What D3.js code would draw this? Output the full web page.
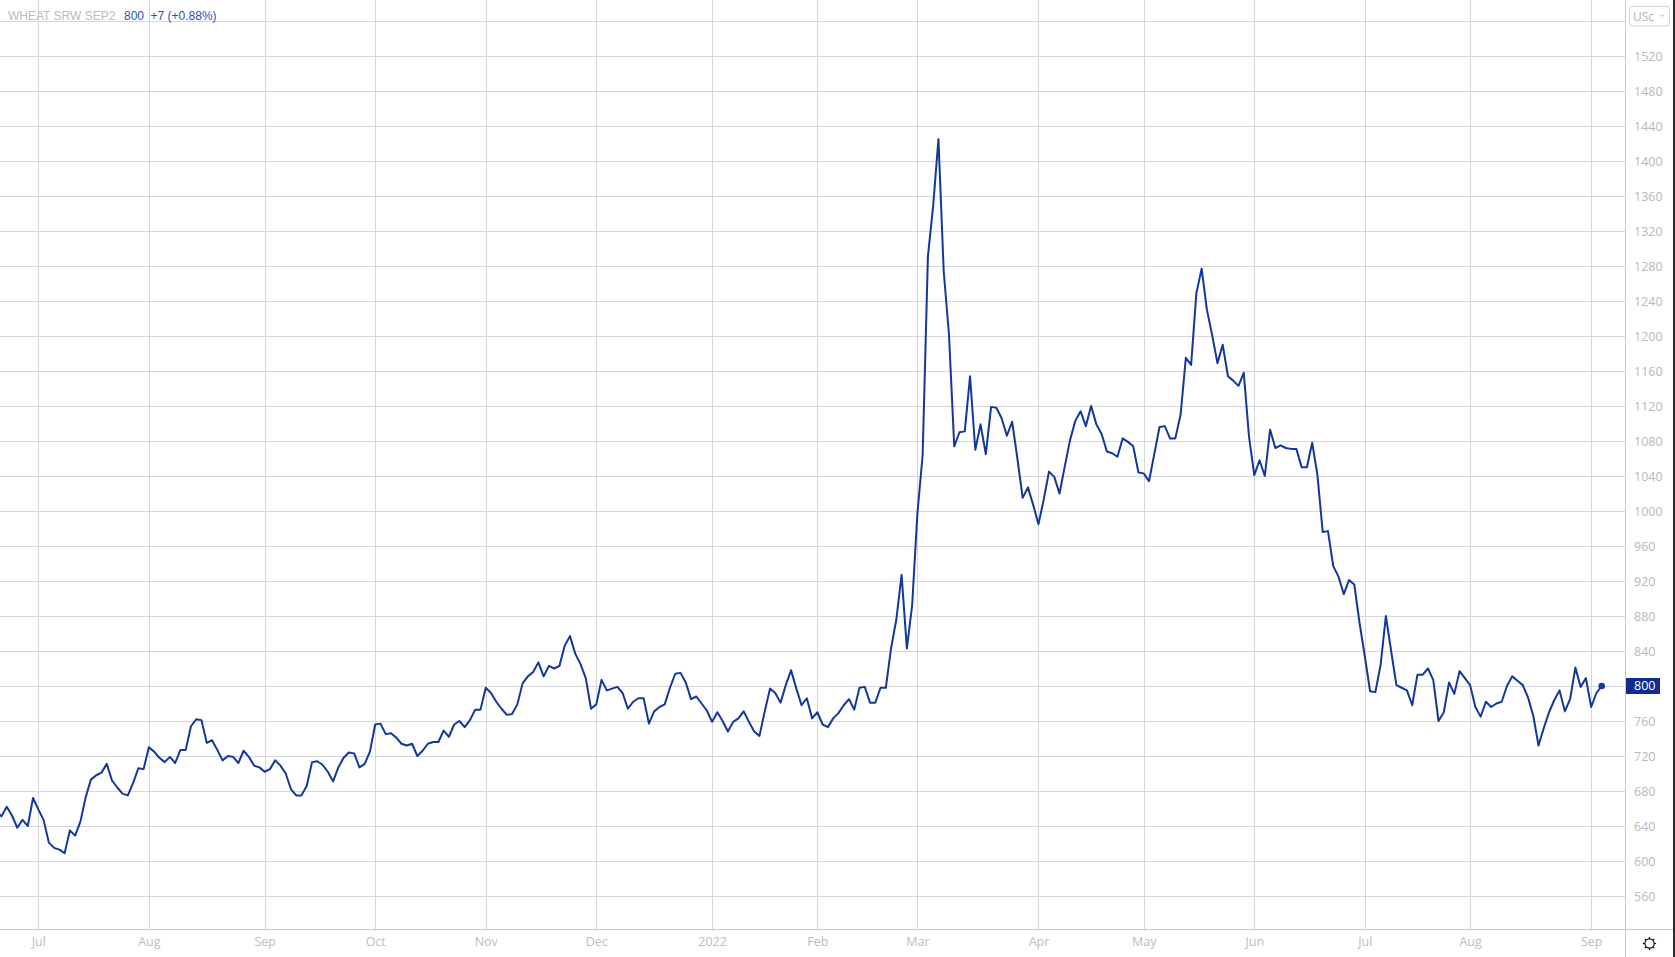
<!DOCTYPE html>
<html><head><meta charset="utf-8">
<script src="https://cdn.jsdelivr.net/npm/d3@7"></script>
<style>
html,body{margin:0;padding:0;background:#fff;overflow:hidden}
svg{display:block}
</style></head><body>
<svg id="chart" width="1675" height="957"></svg>
<script>
// ---- data ----
const titleText = "WHEAT SRW SEP2";
const lastPriceText = "800";
const changeText = "+7 (+0.88%)";
const currencyText = "USc";
const monthLabels = ["Jul","Aug","Sep","Oct","Nov","Dec","2022","Feb","Mar","Apr","May","Jun","Jul","Aug","Sep"];
// trading-day index (into closes) of each month's first session
const monthStartIndex = [8,29,51,72,93,114,136,156,175,198,218,239,260,280,303];
const priceTicks = [560,600,640,680,720,760,800,840,880,920,960,1000,1040,1080,1120,1160,1200,1240,1280,1320,1360,1400,1440,1480,1520,1560];
const priceLabels = [560,600,640,680,720,760,800,840,880,920,960,1000,1040,1080,1120,1160,1200,1240,1280,1320,1360,1400,1440,1480,1520];
// daily closes, 21 Jun 2021 .. 6 Sep 2022
const closes = [
 657,651,662,652,638,647,640,672,
 659,647,621,615,613,609,635,629,645,673,
 693,698,701,711,692,684,677,675,689,706,
 705,730,725,718,713,719,712,727,727,754,
 762,761,735,738,727,715,720,719,712,726,
 719,709,707,702,705,715,709,700,682,675,
 675,686,713,714,710,702,691,707,718,724,
 723,707,711,725,756,757,745,746,741,734,
 732,734,720,726,734,736,736,749,742,756,
 760,753,761,773,773,798,792,782,774,767,
 768,779,803,811,816,827,811,823,820,823,
 846,857,837,825,809,774,779,807,795,797,
 799,792,774,782,786,786,757,771,776,779,
 798,814,815,804,785,788,780,772,759,770,
 760,748,759,763,771,759,748,743,771,797,
 792,781,801,818,797,778,786,763,770,756,
 753,763,769,778,785,773,798,799,781,781,
 798,798,843,876,927,843,892,997,1064,1291,
 1349,1425,1274,1202,1074,1090,1091,1154,1070,1099,
 1065,1119,1118,1106,1086,1102,1060,1015,1027,1007,
 985,1013,1045,1039,1020,1051,1081,1103,1114,1097,
 1120,1099,1088,1068,1066,1062,1083,1079,1074,1044,
 1043,1034,1065,1096,1097,1083,1083,1110,1175,1167,
 1249,1277,1230,1201,1169,1190,1154,1149,1143,1158,
 1085,1041,1058,1040,1093,1072,1075,1072,1071,1071,
 1050,1050,1078,1041,976,977,937,925,905,921,
 916,872,834,794,793,824,880,840,801,798,
 795,778,813,813,820,807,760,770,804,791,
 817,809,801,776,765,782,776,780,782,800,
 811,806,801,787,766,732,752,770,784,795,
 771,785,821,799,809,776,792,800
];

// ---- layout ----
const W = 1675, H = 957;
const plotRight = 1625, plotBottom = 929;
const svg = d3.select("#chart");
const gridColor = "#d6d7dd";
const lineColor = "#14379b";
const font = "'Open Sans', 'DejaVu Sans', sans-serif";

const x = d3.scaleLinear().domain([0, closes.length - 1]).range([-3.8, 1601.7]);
const y = d3.scaleLinear().domain([560, 1520]).range([896, 56]);

// clip
svg.append("defs").append("clipPath").attr("id","plotclip")
  .append("rect").attr("x",0).attr("y",0).attr("width",plotRight).attr("height",plotBottom);

// grid
const grid = svg.append("g");
grid.selectAll("line.h").data(priceTicks).join("line")
  .attr("x1",0).attr("x2",plotRight)
  .attr("y1",d=>Math.round(y(d))+0.5).attr("y2",d=>Math.round(y(d))+0.5)
  .attr("stroke",gridColor).attr("stroke-width",1);
grid.selectAll("line.v").data(monthStartIndex).join("line")
  .attr("y1",0).attr("y2",plotBottom)
  .attr("x1",d=>Math.round(x(d))+0.5).attr("x2",d=>Math.round(x(d))+0.5)
  .attr("stroke",gridColor).attr("stroke-width",1);

// axis frames
svg.append("line").attr("x1",0).attr("x2",1673).attr("y1",plotBottom+0.5).attr("y2",plotBottom+0.5)
  .attr("stroke","#c9c9c9");
svg.append("line").attr("x1",plotRight+0.5).attr("x2",plotRight+0.5).attr("y1",0).attr("y2",H)
  .attr("stroke","#c9c9c9");
svg.append("rect").attr("x",1673).attr("y",0).attr("width",2).attr("height",H).attr("fill","#2a2a2a");

// y axis labels
const yAxis = d3.axisRight(y).tickValues(priceLabels).tickSize(0).tickPadding(9).tickFormat(d3.format("d"));
const gy = svg.append("g").attr("transform",`translate(${plotRight},0)`).call(yAxis);
gy.select(".domain").remove();
gy.selectAll("text").attr("fill","#b9b9b9").style("font-family",font).style("font-size","12.5px");

// x axis labels
const xAxis = d3.axisBottom(x).tickValues(monthStartIndex).tickSize(0).tickPadding(8)
  .tickFormat((d,i)=>monthLabels[i]);
const gx = svg.append("g").attr("transform",`translate(0,${plotBottom})`).call(xAxis);
gx.select(".domain").remove();
gx.selectAll("text").attr("fill","#bdbdbd").style("font-family",font).style("font-size","12.5px");

// price line
const line = d3.line().x((d,i)=>x(i)).y(d=>y(d));
svg.append("path").datum(closes).attr("clip-path","url(#plotclip)")
  .attr("d",line).attr("fill","none").attr("stroke",lineColor).attr("stroke-width",2)
  .attr("stroke-linejoin","round");
const lastI = closes.length - 1;
svg.append("circle").attr("cx",x(lastI)).attr("cy",y(closes[lastI])).attr("r",3.3).attr("fill",lineColor);

// last price badge
const ly = y(closes[lastI]);
svg.append("rect").attr("x",plotRight+1).attr("y",ly-8).attr("width",34).attr("height",16).attr("fill","#0f2d8e");
svg.append("text").attr("x",plotRight+9).attr("y",ly).attr("dy","0.35em").attr("fill","#fff")
  .style("font-family",font).style("font-size","12.5px").text(lastPriceText);

// title
const t = svg.append("text").attr("y",19.5).style("font-family","'Liberation Sans', Arial, sans-serif").style("font-size","12px");
t.append("tspan").attr("x",8).attr("fill","#bcbcbc").text(titleText);
t.append("tspan").attr("x",124).attr("fill","#2b4fb5").text(lastPriceText);
t.append("tspan").attr("x",150.5).attr("fill","#2b4fb5").text(changeText);

// currency button
svg.append("rect").attr("x",1629.5).attr("y",6.5).attr("width",40).attr("height",19.5).attr("rx",3)
  .attr("fill","#fff").attr("stroke","#d2d2d2");
svg.append("text").attr("x",1633).attr("y",20.5).attr("fill","#b5b5b5")
  .style("font-family",font).style("font-size","12px").text(currencyText);
svg.append("path").attr("d","M1660.5,14.5 L1662.5,16.5 L1664.5,14.5").attr("fill","none").attr("stroke","#b5b5b5");

// settings gear
const gear = svg.append("g").attr("transform","translate(1649.5,943.5)");
gear.append("circle").attr("r",4.6).attr("fill","none").attr("stroke","#111").attr("stroke-width",1.2);
gear.selectAll("line").data(d3.range(8)).join("line")
  .attr("x1",d=>4.6*Math.cos(d*Math.PI/4)).attr("y1",d=>4.6*Math.sin(d*Math.PI/4))
  .attr("x2",d=>6.6*Math.cos(d*Math.PI/4)).attr("y2",d=>6.6*Math.sin(d*Math.PI/4))
  .attr("stroke","#111").attr("stroke-width",1.2);
</script>
</body></html>
